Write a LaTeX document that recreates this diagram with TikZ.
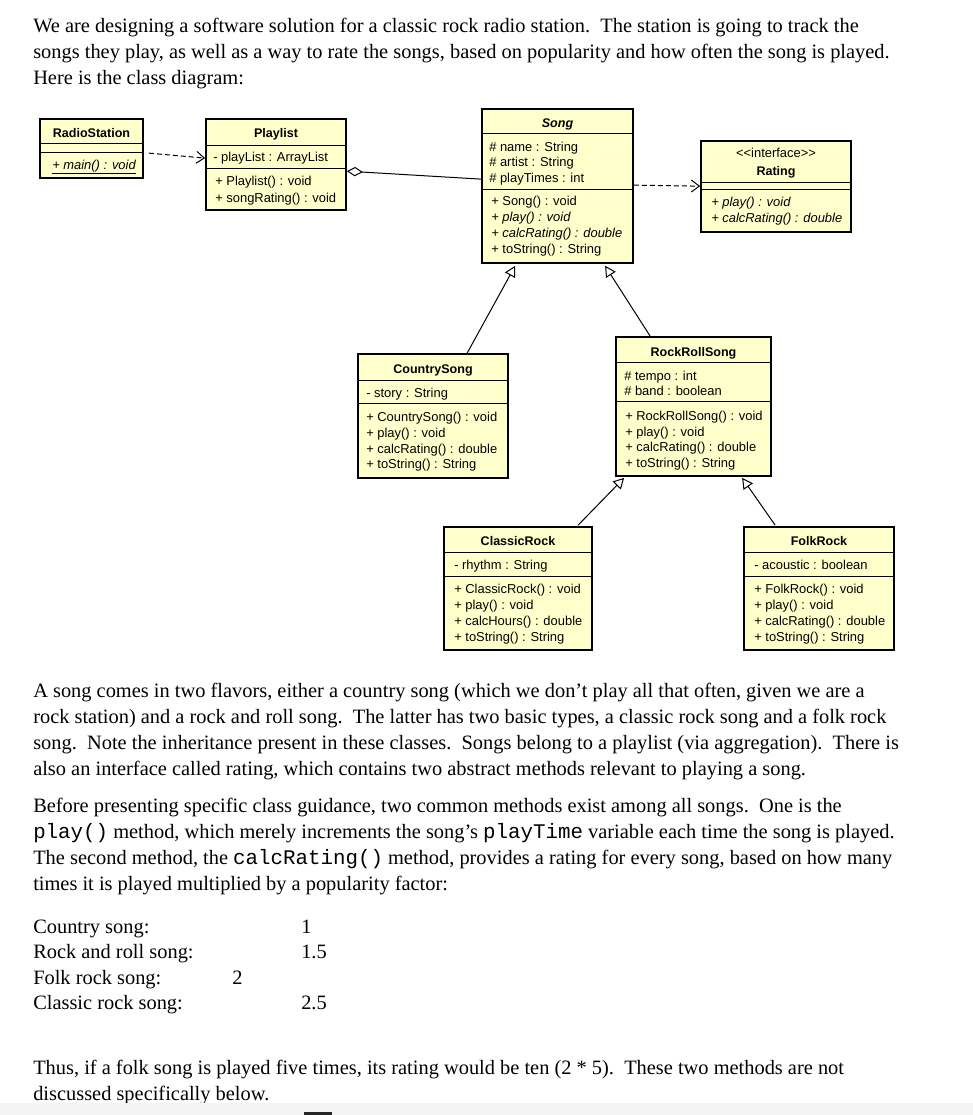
\documentclass[tikz,border=0pt]{standalone}
\usepackage{fontspec}
\setmainfont{Liberation Serif}
\setsansfont{Liberation Sans}
\setmonofont{Liberation Mono}
\usetikzlibrary{arrows.meta,calc,fit}
\definecolor{umlfill}{HTML}{FFFFCC}
\definecolor{bandgray}{HTML}{F3F3F3}
\newcommand\myuml{\sffamily\fontsize{9.7}{11}\selectfont}
\newcommand\myumlb{\sffamily\bfseries\fontsize{9.4}{11}\selectfont}
\newcommand\mybody{\rmfamily\fontsize{15.3}{17}\selectfont\frenchspacing}
\newcommand\mycode[1]{{\ttfamily\fontsize{15.6}{17}\selectfont #1}}
\newcommand\csep[2]{\draw[sepline] (#1.west |- 0,#2) -- (#1.east |- 0,#2);}
\tikzset{
  x=0.75pt, y=-0.75pt,
  cls/.style={draw=black, fill=umlfill, line width=1.3pt, inner sep=0pt, rectangle},
  sepline/.style={line width=0.75pt},
  mem/.style={anchor=base west, inner sep=0pt, font=\myuml},
  ttl/.style={anchor=base, inner sep=0pt, font=\myumlb},
  body/.style={anchor=base west, inner sep=0pt, font=\mybody},
  gen/.style={-{Triangle[open,length=8pt,width=8.5pt]}, line width=0.75pt},
  dep/.style={dash pattern=on 3.75pt off 2.25pt, -{Straight Barb[length=6pt,width=9pt]}, line width=0.75pt},
  agg/.style={{Diamond[open,length=12pt,width=7pt]}-, line width=0.75pt},
}
\begin{document}
\begin{tikzpicture}
\useasboundingbox (0,0) rectangle (973,1115);
\fill[white] (0,0) rectangle (973,1115);

% ---------- introduction text ----------
\node[body] (p1a) at (33,32) {We are designing a software solution for a classic rock radio station.~ The station is going to track the};
\node[body] (p1b) at (33,58) {songs they play, as well as a way to rate the songs, based on popularity and how often the song is played.};
\node[body] (p1c) at (33,84) {Here is the class diagram:};

% ---------- class boxes ----------
\node[cls, fit={(40,119) (143,178)}] (radio) {};
\csep{radio}{143} \csep{radio}{152}
\node[ttl] (radiot) at (radio.north |- 0,137) {RadioStation};
\node[mem] (radiom1) at (52,169) {\underline{\itshape + main() : void}};

\node[cls, fit={(206,119) (346,210)}] (playlist) {};
\csep{playlist}{145} \csep{playlist}{168}
\node[ttl] (playlistt) at (playlist.north |- 0,137) {Playlist};
\node[mem] (playlista1) at (213,161) {- playList : ArrayList};
\node[mem] (playlistm1) at (215,185) {+ Playlist() : void};
\node[mem] (playlistm2) at (215,202) {+ songRating() : void};

\node[cls, fit={(482,109) (633,263)}] (song) {};
\csep{song}{133} \csep{song}{189}
\node[ttl, font={\myumlb\itshape}] (songt) at (song.north |- 0,127) {Song};
\node[mem] (songa1) at (489,151) {\# name : String};
\node[mem] (songa2) at (489,166) {\# artist : String};
\node[mem] (songa3) at (489,182) {\# playTimes : int};
\node[mem] (songm1) at (491,205) {+ Song() : void};
\node[mem] (songm2) at (491,221) {\itshape + play() : void};
\node[mem] (songm3) at (491,237) {\itshape + calcRating() : double};
\node[mem] (songm4) at (491,253) {+ toString() : String};

\node[cls, fit={(701,141) (851,232)}] (rating) {};
\csep{rating}{182} \csep{rating}{189}
\node[ttl, font=\myuml] (ratings) at (rating.north |- 0,157) {<{}<interface>{}>};
\node[ttl] (ratingt) at (rating.north |- 0,175) {Rating};
\node[mem] (ratingm1) at (711,206) {\itshape + play() : void};
\node[mem] (ratingm2) at (711,222) {\itshape + calcRating() : double};

\node[cls, fit={(358,354) (508,478)}] (country) {};
\csep{country}{380} \csep{country}{403}
\node[ttl] (countryt) at (country.north |- 0,373) {CountrySong};
\node[mem] (countrya1) at (366,397) {- story : String};
\node[mem] (countrym1) at (366,421) {+ CountrySong() : void};
\node[mem] (countrym2) at (366,437) {+ play() : void};
\node[mem] (countrym3) at (366,453) {+ calcRating() : double};
\node[mem] (countrym4) at (366,468) {+ toString() : String};

\node[cls, fit={(616,337) (771,476)}] (rock) {};
\csep{rock}{362} \csep{rock}{401}
\node[ttl] (rockt) at (rock.north |- 0,356) {RockRollSong};
\node[mem] (rocka1) at (624,380) {\# tempo : int};
\node[mem] (rocka2) at (624,395) {\# band : boolean};
\node[mem] (rockm1) at (625,420) {+ RockRollSong() : void};
\node[mem] (rockm2) at (625,436) {+ play() : void};
\node[mem] (rockm3) at (625,451) {+ calcRating() : double};
\node[mem] (rockm4) at (625,467) {+ toString() : String};

\node[cls, fit={(444,527) (592,650)}] (classic) {};
\csep{classic}{552} \csep{classic}{576}
\node[ttl] (classict) at (classic.north |- 0,545) {ClassicRock};
\node[mem] (classica1) at (454,569) {- rhythm : String};
\node[mem] (classicm1) at (454,593) {+ ClassicRock() : void};
\node[mem] (classicm2) at (454,609) {+ play() : void};
\node[mem] (classicm3) at (454,625) {+ calcHours() : double};
\node[mem] (classicm4) at (454,641) {+ toString() : String};

\node[cls, fit={(744,527) (894,650)}] (folk) {};
\csep{folk}{552} \csep{folk}{576}
\node[ttl] (folkt) at (folk.north |- 0,545) {FolkRock};
\node[mem] (folka1) at (754,569) {- acoustic : boolean};
\node[mem] (folkm1) at (754,593) {+ FolkRock() : void};
\node[mem] (folkm2) at (754,609) {+ play() : void};
\node[mem] (folkm3) at (754,625) {+ calcRating() : double};
\node[mem] (folkm4) at (754,641) {+ toString() : String};

% ---------- connectors ----------
\draw[dep] ($(radio.north east)+(5,35)$) -- ($(playlist.north west)+(0,40)$);
\draw[agg] ($(playlist.north east)+(0,53)$) -- ($(song.north west)+(0,71)$);
\draw[dep] ($(song.north east)+(0,77)$) -- ($(rating.north west)+(0,46)$);
\draw[gen] ($(country.north west)+(110,0)$) -- ($(song.south west)+(34,2)$);
\draw[gen] ($(rock.north west)+(35,0)$) -- ($(song.south west)+(124,2)$);
\draw[gen] ($(classic.north west)+(135,-1)$) -- ($(rock.south west)+(9,1)$);
\draw[gen] ($(folk.north west)+(32,-1)$) -- ($(rock.south west)+(127,1)$);

% ---------- explanatory text ----------
\node[body] (p2a) at (33,697) {A song comes in two flavors, either a country song (which we don’t play all that often, given we are a};
\node[body] (p2b) at (33,723) {rock station) and a rock and roll song.~ The latter has two basic types, a classic rock song and a folk rock};
\node[body] (p2c) at (33,749) {song.~ Note the inheritance present in these classes.~ Songs belong to a playlist (via aggregation).~ There is};
\node[body] (p2d) at (33,775) {also an interface called rating, which contains two abstract methods relevant to playing a song.};

\node[body] (p3a) at (33,812) {Before presenting specific class guidance, two common methods exist among all songs.~ One is the};
\node[body] (p3b) at (33,838) {\mycode{play()} method, which merely increments the song’s \mycode{playTime} variable each time the song is played.};
\node[body] (p3c) at (33,864) {The second method, the \mycode{calcRating()} method, provides a rating for every song, based on how many};
\node[body] (p3d) at (33,890) {times it is played multiplied by a popularity factor:};

\node[body] (t1) at (33,933) {Country song:};
\node[body] (t1v) at (301,933) {1};
\node[body] (t2) at (33,958) {Rock and roll song:};
\node[body] (t2v) at (301,958) {1.5};
\node[body] (t3) at (33,984) {Folk rock song:};
\node[body] (t3v) at (232,984) {2};
\node[body] (t4) at (33,1009) {Classic rock song:};
\node[body] (t4v) at (301,1009) {2.5};

\node[body] (p4a) at (33,1074) {Thus, if a folk song is played five times, its rating would be ten (2 * 5).~ These two methods are not};
\node[body] (p4b) at (33,1100) {discussed specifically below.};

% ---------- bottom band ----------
\fill[bandgray] (0,1103) rectangle (973,1115);
\fill[black!85] (304,1112) rectangle (332,1115);
\end{tikzpicture}
\end{document}
